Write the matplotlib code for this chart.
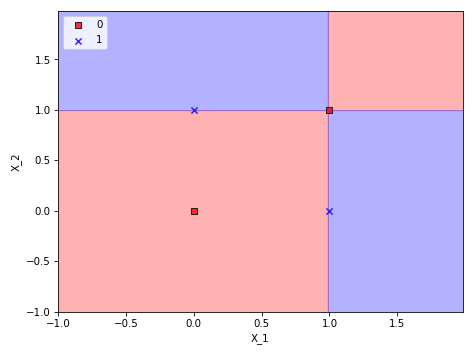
import numpy as np
import matplotlib
matplotlib.use("Agg")
import matplotlib.pyplot as plt
from matplotlib.colors import ListedColormap

# XOR data
X1 = [0.0, 1.0, 0.0, 1.0]
X2 = [0.0, 1.0, 1.0, 0.0]
labels = [0, 0, 1, 1]
# learned split thresholds of the classifier
split_x1 = 0.99
split_x2 = 0.99

X1 = np.array(X1); X2 = np.array(X2); labels = np.array(labels)

colors = ['red', 'blue']
markers = ['s', 'x']
cmap = ListedColormap(colors)

resolution = 0.02
x1_min, x1_max = X1.min() - 1, X1.max() + 1
x2_min, x2_max = X2.min() - 1, X2.max() + 1
xx1, xx2 = np.meshgrid(np.arange(x1_min, x1_max, resolution),
                       np.arange(x2_min, x2_max, resolution))
Z = ((xx1 > split_x1) ^ (xx2 > split_x2)).astype(int)

fig, ax = plt.subplots(figsize=(6.4, 4.8), dpi=74)
ax.contourf(xx1, xx2, Z, levels=[-0.5, 0.5, 1.5], alpha=0.3, cmap=cmap)
ax.contour(xx1, xx2, Z, levels=[0.5], colors=['#5a3cc8'], linewidths=0.8, alpha=0.35)
ax.set_xlim(xx1.min(), xx1.max())
ax.set_ylim(xx2.min(), xx2.max())

for idx, cl in enumerate(np.unique(labels)):
    kw = dict(alpha=0.8, c=colors[idx], marker=markers[idx], label=str(cl))
    if markers[idx] != 'x':
        kw['edgecolor'] = 'black'
    ax.scatter(X1[labels == cl], X2[labels == cl], **kw)

ax.set_xlabel('X_1')
ax.set_ylabel('X_2')
ax.legend(loc='upper left')
fig.tight_layout()
fig.savefig('out.png', dpi=74)
